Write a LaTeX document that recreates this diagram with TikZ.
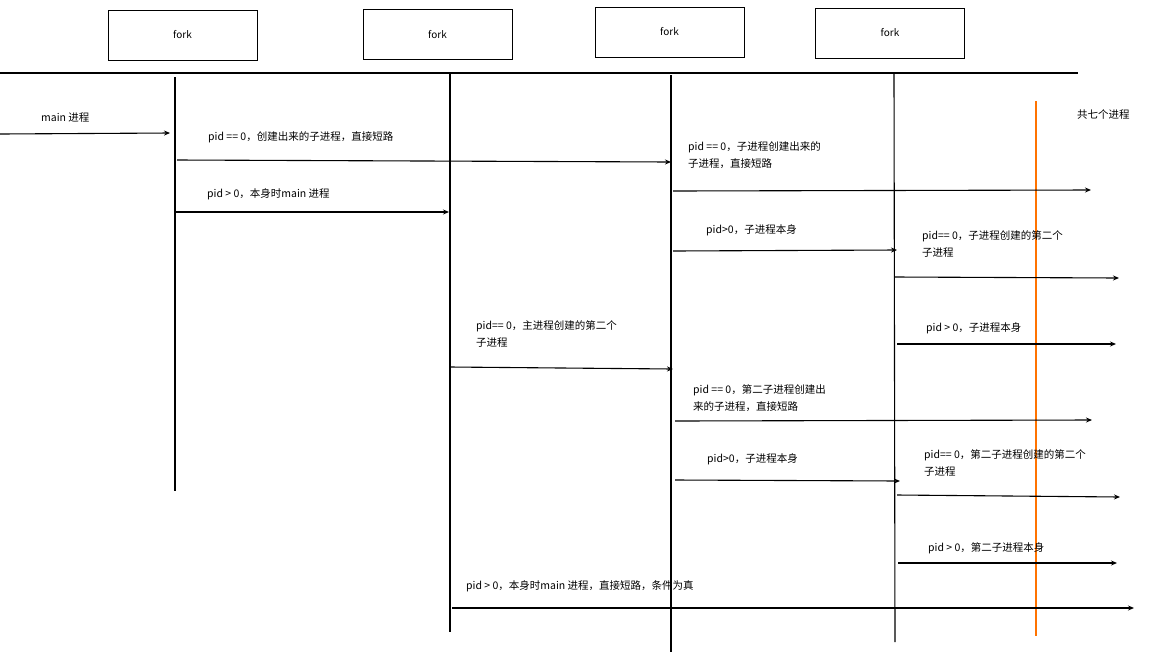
\documentclass[tikz,border=0pt]{standalone}
\usepackage{fontspec}
\setmainfont{Noto Sans CJK SC}
\usetikzlibrary{arrows.meta}
\begin{document}
\begin{tikzpicture}[x=1pt,y=-1pt,
  forkbox/.style={draw,thick,minimum width=149pt,minimum height=50pt,font=\fontsize{10}{12}\selectfont},
  lbl/.style={anchor=west,inner sep=0pt,font=\fontsize{10.5}{17}\selectfont,align=left},
  msg/.style={-{Stealth[length=6pt,width=5pt]},line width=1.1pt},
  life/.style={line width=1.1pt}]
\useasboundingbox (0,0) rectangle (1176,657);
\node[forkbox] (f1) at (182.5,35) {fork};
\node[forkbox] (f2) at (437.5,34.5) {fork};
\node[forkbox] (f3) at (669.5,32) {fork};
\node[forkbox] (f4) at (890,33) {fork};
\draw[life] (0,73) -- (1078,73);
\draw[life] (175,77) -- (175,491);
\draw[life] (450,74) -- (450,632);
\draw[life] (671,75) -- (671,652);
\draw[life] (894,74) -- (895,642);
\draw[line width=1.2pt,orange!90!red] (1036,101) -- (1036,636);
\node[lbl] at (1077,115) {共七个进程};
\draw[msg] (0,134) -- (170,133); \node[lbl] at (41,118) {main 进程};
\draw[msg] (177,160) -- (671,162); \node[lbl] at (208,137) {pid == 0，创建出来的子进程，直接短路};
\draw[msg] (175,212) -- (449,212); \node[lbl] at (207,194) {pid > 0，本身时main 进程};
\draw[msg] (673,191) -- (1091,190); \node[lbl] at (688,155) {pid == 0，子进程创建出来的\\子进程，直接短路};
\draw[msg] (673,251) -- (897,250); \node[lbl] at (706,230) {pid>0，子进程本身};
\draw[msg] (895,277) -- (1119,278); \node[lbl] at (922,244) {pid== 0，子进程创建的第二个\\子进程};
\draw[msg] (897,344) -- (1116,344); \node[lbl] at (926,328) {pid > 0，子进程本身};
\draw[msg] (450,367) -- (673,369); \node[lbl] at (476,334) {pid== 0，主进程创建的第二个\\子进程};
\draw[msg] (675,421) -- (1092,420); \node[lbl] at (693,398) {pid == 0，第二子进程创建出\\来的子进程，直接短路};
\draw[msg] (675,480) -- (900,481); \node[lbl] at (707,459) {pid>0，子进程本身};
\draw[msg] (897,495) -- (1120,497); \node[lbl] at (924,463) {pid== 0，第二子进程创建的第二个\\子进程};
\draw[msg] (898,563) -- (1117,563); \node[lbl] at (928,548) {pid > 0，第二子进程本身};
\draw[msg] (452,608) -- (1134,608); \node[lbl] at (466,586) {pid > 0，本身时main 进程，直接短路，条件为真};
\end{tikzpicture}
\end{document}
